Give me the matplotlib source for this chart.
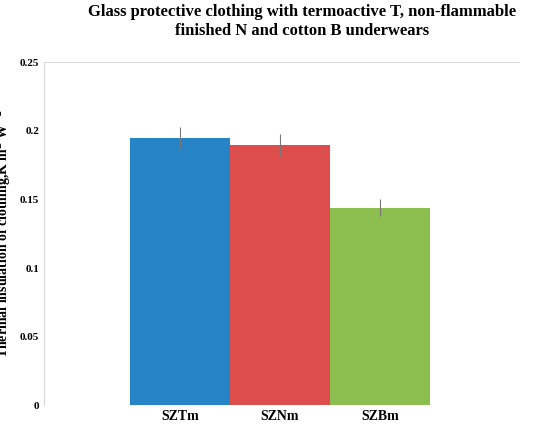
import matplotlib
matplotlib.use("Agg")
import matplotlib.pyplot as plt

categories = ["SZTm", "SZNm", "SZBm"]
values = [0.195, 0.190, 0.144]
errors = [0.008, 0.008, 0.006]
colors = ["#2683c6", "#dd4d4c", "#8bbd4f"]
yticks = [0, 0.05, 0.1, 0.15, 0.2, 0.25]
ylabels = ["0", "0.05", "0.1", "0.15", "0.2", "0.25"]

plt.rcParams['font.family'] = ['Liberation Serif', 'DejaVu Serif']
fig = plt.figure(figsize=(5.5, 4.29), dpi=100)
ax = fig.add_axes([0.08, 0.055, 0.865, 0.8])
x = range(len(categories))
ax.bar(x, values, width=1.0, color=colors, yerr=errors,
       error_kw=dict(ecolor="#777777", elinewidth=0.8, capsize=0))
ax.set_xlim(-1.36, 3.4)
ax.set_ylim(0, 0.25)
ax.set_yticks(yticks)
ax.set_yticklabels(ylabels, fontsize=8, fontweight='bold')
ax.set_xticks(list(x))
ax.set_xticklabels(categories, fontsize=10, fontweight='bold')
ax.tick_params(length=0)
ax.axhline(0.25, color="#d9d9d9", lw=0.8)
for s in ["top", "right", "bottom"]:
    ax.spines[s].set_visible(False)
ax.spines["left"].set_color("#d9d9d9")
ax.set_ylabel("Thermal insulation of clothing,K m$^2$ W$^{-1}$", fontsize=10,
              fontweight='bold', labelpad=4)
fig.suptitle("Glass protective clothing with termoactive T, non-flammable\nfinished N and cotton B underwears",
             x=0.55, y=0.99, fontsize=12, fontweight='bold')
fig.savefig("out.png", dpi=100)
